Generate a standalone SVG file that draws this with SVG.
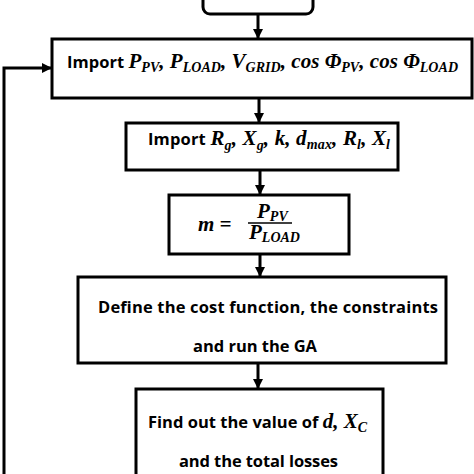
<svg xmlns="http://www.w3.org/2000/svg" width="474" height="474" viewBox="0 0 474 474">
<style>
.box{fill:#fff;stroke:#000;stroke-width:3}
.ln{fill:none;stroke:#000;stroke-width:3}
.t{font-family:"Open Sans","Noto Sans",sans-serif;font-weight:bold;font-size:16.5px;fill:#000}
.m{font-family:"Liberation Serif","DejaVu Serif",serif;font-weight:bold;font-style:italic;font-size:21px}
.s{font-family:"Liberation Serif","DejaVu Serif",serif;font-weight:bold;font-style:italic;font-size:14px}
</style>
<defs>
<marker id="ah" markerWidth="10" markerHeight="10" refX="9" refY="5" orient="auto" markerUnits="userSpaceOnUse">
<path d="M0,0 L10,5 L0,10 Z" fill="#000"/>
</marker>
</defs>
<g id="start"><rect class="box" x="203" y="-12" width="110" height="26" rx="7"/></g>
<g id="import1">
<rect class="box" x="52" y="39" width="420" height="59"/>
<text class="t" x="67" y="68" textLength="391">Import <tspan class="m">P</tspan><tspan class="s" dy="4">PV</tspan><tspan class="m" dy="-4">, P</tspan><tspan class="s" dy="4">LOAD</tspan><tspan class="m" dy="-4">, V</tspan><tspan class="s" dy="4">GRID</tspan><tspan class="m" dy="-4">, cos Φ</tspan><tspan class="s" dy="4">PV</tspan><tspan class="m" dy="-4">, cos Φ</tspan><tspan class="s" dy="4">LOAD</tspan></text>
</g>
<g id="import2">
<rect class="box" x="126" y="123" width="272" height="47"/>
<text class="t" x="148" y="145" textLength="242">Import <tspan class="m">R</tspan><tspan class="s" dy="5">g</tspan><tspan class="m" dy="-5">, X</tspan><tspan class="s" dy="5">g</tspan><tspan class="m" dy="-5">, k, d</tspan><tspan class="s" dy="4">max</tspan><tspan class="m" dy="-4">, R</tspan><tspan class="s" dy="4">l</tspan><tspan class="m" dy="-4">, X</tspan><tspan class="s" dy="4">l</tspan></text>
</g>
<g id="ratio">
<rect class="box" x="169" y="195" width="180" height="59"/>
<text class="m" x="198" y="231" font-size="23">m =</text>
<text class="m" x="257" y="218" font-size="16">P<tspan class="s" font-size="11" dy="3">PV</tspan></text>
<line x1="248" y1="223" x2="292" y2="223" stroke="#000" stroke-width="1.5"/>
<text class="m" x="249" y="239" font-size="16">P<tspan class="s" font-size="11" dy="3">LOAD</tspan></text>
</g>
<g id="define">
<rect class="box" x="78" y="277" width="368" height="86"/>
<text class="t" x="98" y="313" textLength="340">Define the cost function, the constraints</text>
<text class="t" x="193" y="352" textLength="124">and run the GA</text>
</g>
<g id="find">
<rect class="box" x="136" y="389" width="247" height="100"/>
<text class="t" x="148" y="428" textLength="219">Find out the value of <tspan class="m">d, X</tspan><tspan class="s" dy="4">C</tspan></text>
<text class="t" x="179" y="467" textLength="159">and the total losses</text>
</g>
<g id="connectors">
<line class="ln" x1="258" y1="14" x2="258" y2="38" marker-end="url(#ah)"/>
<line class="ln" x1="259" y1="98" x2="259" y2="122" marker-end="url(#ah)"/>
<line class="ln" x1="260" y1="170" x2="260" y2="194" marker-end="url(#ah)"/>
<line class="ln" x1="260" y1="254" x2="260" y2="276" marker-end="url(#ah)"/>
<line class="ln" x1="258" y1="363" x2="258" y2="388" marker-end="url(#ah)"/>
<polyline class="ln" points="4,474 4,68 51,68" marker-end="url(#ah)"/>
</g>
</svg>
